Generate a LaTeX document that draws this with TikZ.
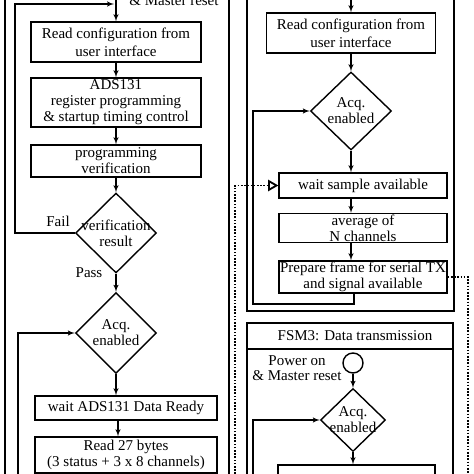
\documentclass[tikz,border=0pt]{standalone}
\usepackage{fontspec}
\setmainfont{Liberation Serif}
\usetikzlibrary{arrows}
\usetikzlibrary{shapes}
\newcommand{\fsz}{\fontsize{15}{16}\selectfont}

\begin{document}
\begin{tikzpicture}[node distance = 2cm, auto, x=1pt, y=-1pt, line width=1.4pt]
    \tikzstyle{every node}=[font=\fsz]
    \tikzstyle{block}    = [rectangle, draw, fill=white, align=center, inner sep=1pt, minimum width=170, minimum height=40]
    \tikzstyle{decision} = [diamond, draw, fill=white, inner sep=0pt, minimum width=81, minimum height=80]
    \tikzstyle{line}     = [draw, -latex']
    \tikzstyle{signal}   = [draw, line width=1.8pt, dash pattern=on 1.6pt off 1.6pt, -open triangle 60]

    \useasboundingbox (0,0) rectangle (474,474);
    \clip (0,0) rectangle (474,474);

    % FSM frames
    \draw (5,-10) rectangle (229,490);
    \draw (247,-10) rectangle (454,311);
    \draw (247,323) rectangle (453,490);
    \draw (247,349) -- (453,349);
    \node at (355,336) (title3) {FSM3: Data transmission};

    % Place nodes
    % FSM1:
    \node [anchor=base] at (174,5) (reset1) {\& Master reset};
    \node [block, font=\fontsize{15}{18}\selectfont] at (116,42) (readcfg1) {Read configuration from\\user interface};
    \node [block, below of=readcfg1, minimum height=49, node distance=60.5pt] (regprog) {ADS131\\register programming\\\& startup timing control};
    \node [block, below of=regprog, minimum height=32, node distance=58.5pt] (progver) {programming\\verification};
    \node [decision, below of=progver, node distance=72pt, label={[align=center]center:verification\\result}] (verres) {};
    \node [decision, below of=verres, minimum height=81, node distance=100pt, label={[align=center]center:Acq.\\enabled}] (acq1) {};
    \node [block, minimum width=182, minimum height=24] at (126,408) (waitads) {wait ADS131 Data Ready};
    \node [block, below of=waitads, minimum width=182, minimum height=36, node distance=47pt] (readbytes) {Read 27 bytes\\(3 status + 3 x 8 channels)};
    \node at (58,221) (fail) {Fail};
    \node at (89,273) (pass) {Pass};

    % FSM2:
    \node [block, minimum width=169, font=\fontsize{15}{18}\selectfont] at (351,33) (readcfg2) {Read configuration from\\user interface};
    \node [decision, below of=readcfg2, minimum height=78, node distance=78pt, label={[align=center]center:Acq.\\enabled}] (acq2) {};
    \node [block, minimum width=168, minimum height=25] at (363,185.5) (waitsample) {wait sample available};
    \node [block, below of=waitsample, minimum width=168, minimum height=28, node distance=42.5pt] (average) {average of\\N channels};
    \node [block, below of=average, minimum width=168, minimum height=32, node distance=49pt] (prepare) {Prepare frame for serial TX\\and signal available};

    % FSM3:
    \node [circle, draw, fill=white, minimum size=20, inner sep=0pt] at (353,363) (power3) {};
    \node [align=center, font=\fontsize{15}{14.5}\selectfont] at (297,368) (reset3) {Power on\\\& Master reset};
    \node [decision, below of=power3, minimum width=65, minimum height=63, node distance=57pt, label={[align=center]center:Acq.\\enabled}] (acq3) {};
    \node [block, minimum width=157, minimum height=34] at (356.5,482) (txbox) {};

    % helper coordinates
    \coordinate (top1) at (116,-5);
    \coordinate (failup) at (15,4);
    \coordinate (loop1) at (18,490);
    \coordinate (out1) at (118,490);
    \coordinate (top2) at (351,-5);
    \coordinate (loop2a) at (354,304);
    \coordinate (loop2b) at (253,304);
    \coordinate (loop3) at (253,490);
    \coordinate (sig1) at (235,490);
    \coordinate (sig2) at (468,490);

    % FSM1 connectors
    \path [line] (top1) -- (readcfg1);
    \path [line] (readcfg1) -- (regprog);
    \path [line] (regprog) -- (progver);
    \path [line] (progver) -- (verres);
    \path [line] (verres) -- (acq1);
    \path [line, shorten >=2pt] (verres.west) -| (failup) -- (failup -| readcfg1);
    \path [line] (loop1) |- (acq1.west);
    \path [line] (acq1.south) -- (acq1.south |- waitads.north);
    \path [line] (waitads.south -| out1) -- (readbytes.north -| out1);
    \path [draw] (readbytes.south -| out1) -- (out1);

    % FSM2 connectors
    \path [line] (top2) -- (readcfg2);
    \path [line] (readcfg2) -- (acq2);
    \path [line] (acq2.south) -- (acq2.south |- waitsample.north);
    \path [line] (waitsample.south -| acq2) -- (average.north -| acq2);
    \path [line] (average.south -| acq2) -- (prepare.north -| acq2);
    \path [line] (prepare.south -| loop2a) -- (loop2a) -- (loop2b) |- (acq2.west);

    % FSM3 connectors
    \path [line] (power3) -- (acq3);
    \path [line] (loop3) |- (acq3.west);
    \path [line] (acq3.south) -- (acq3.south |- txbox.north);

    % signals between FSMs
    \path [signal] (sig1) |- (waitsample.west);
    \path [signal, -] (prepare.east) -| (sig2);
\end{tikzpicture}
\end{document}
